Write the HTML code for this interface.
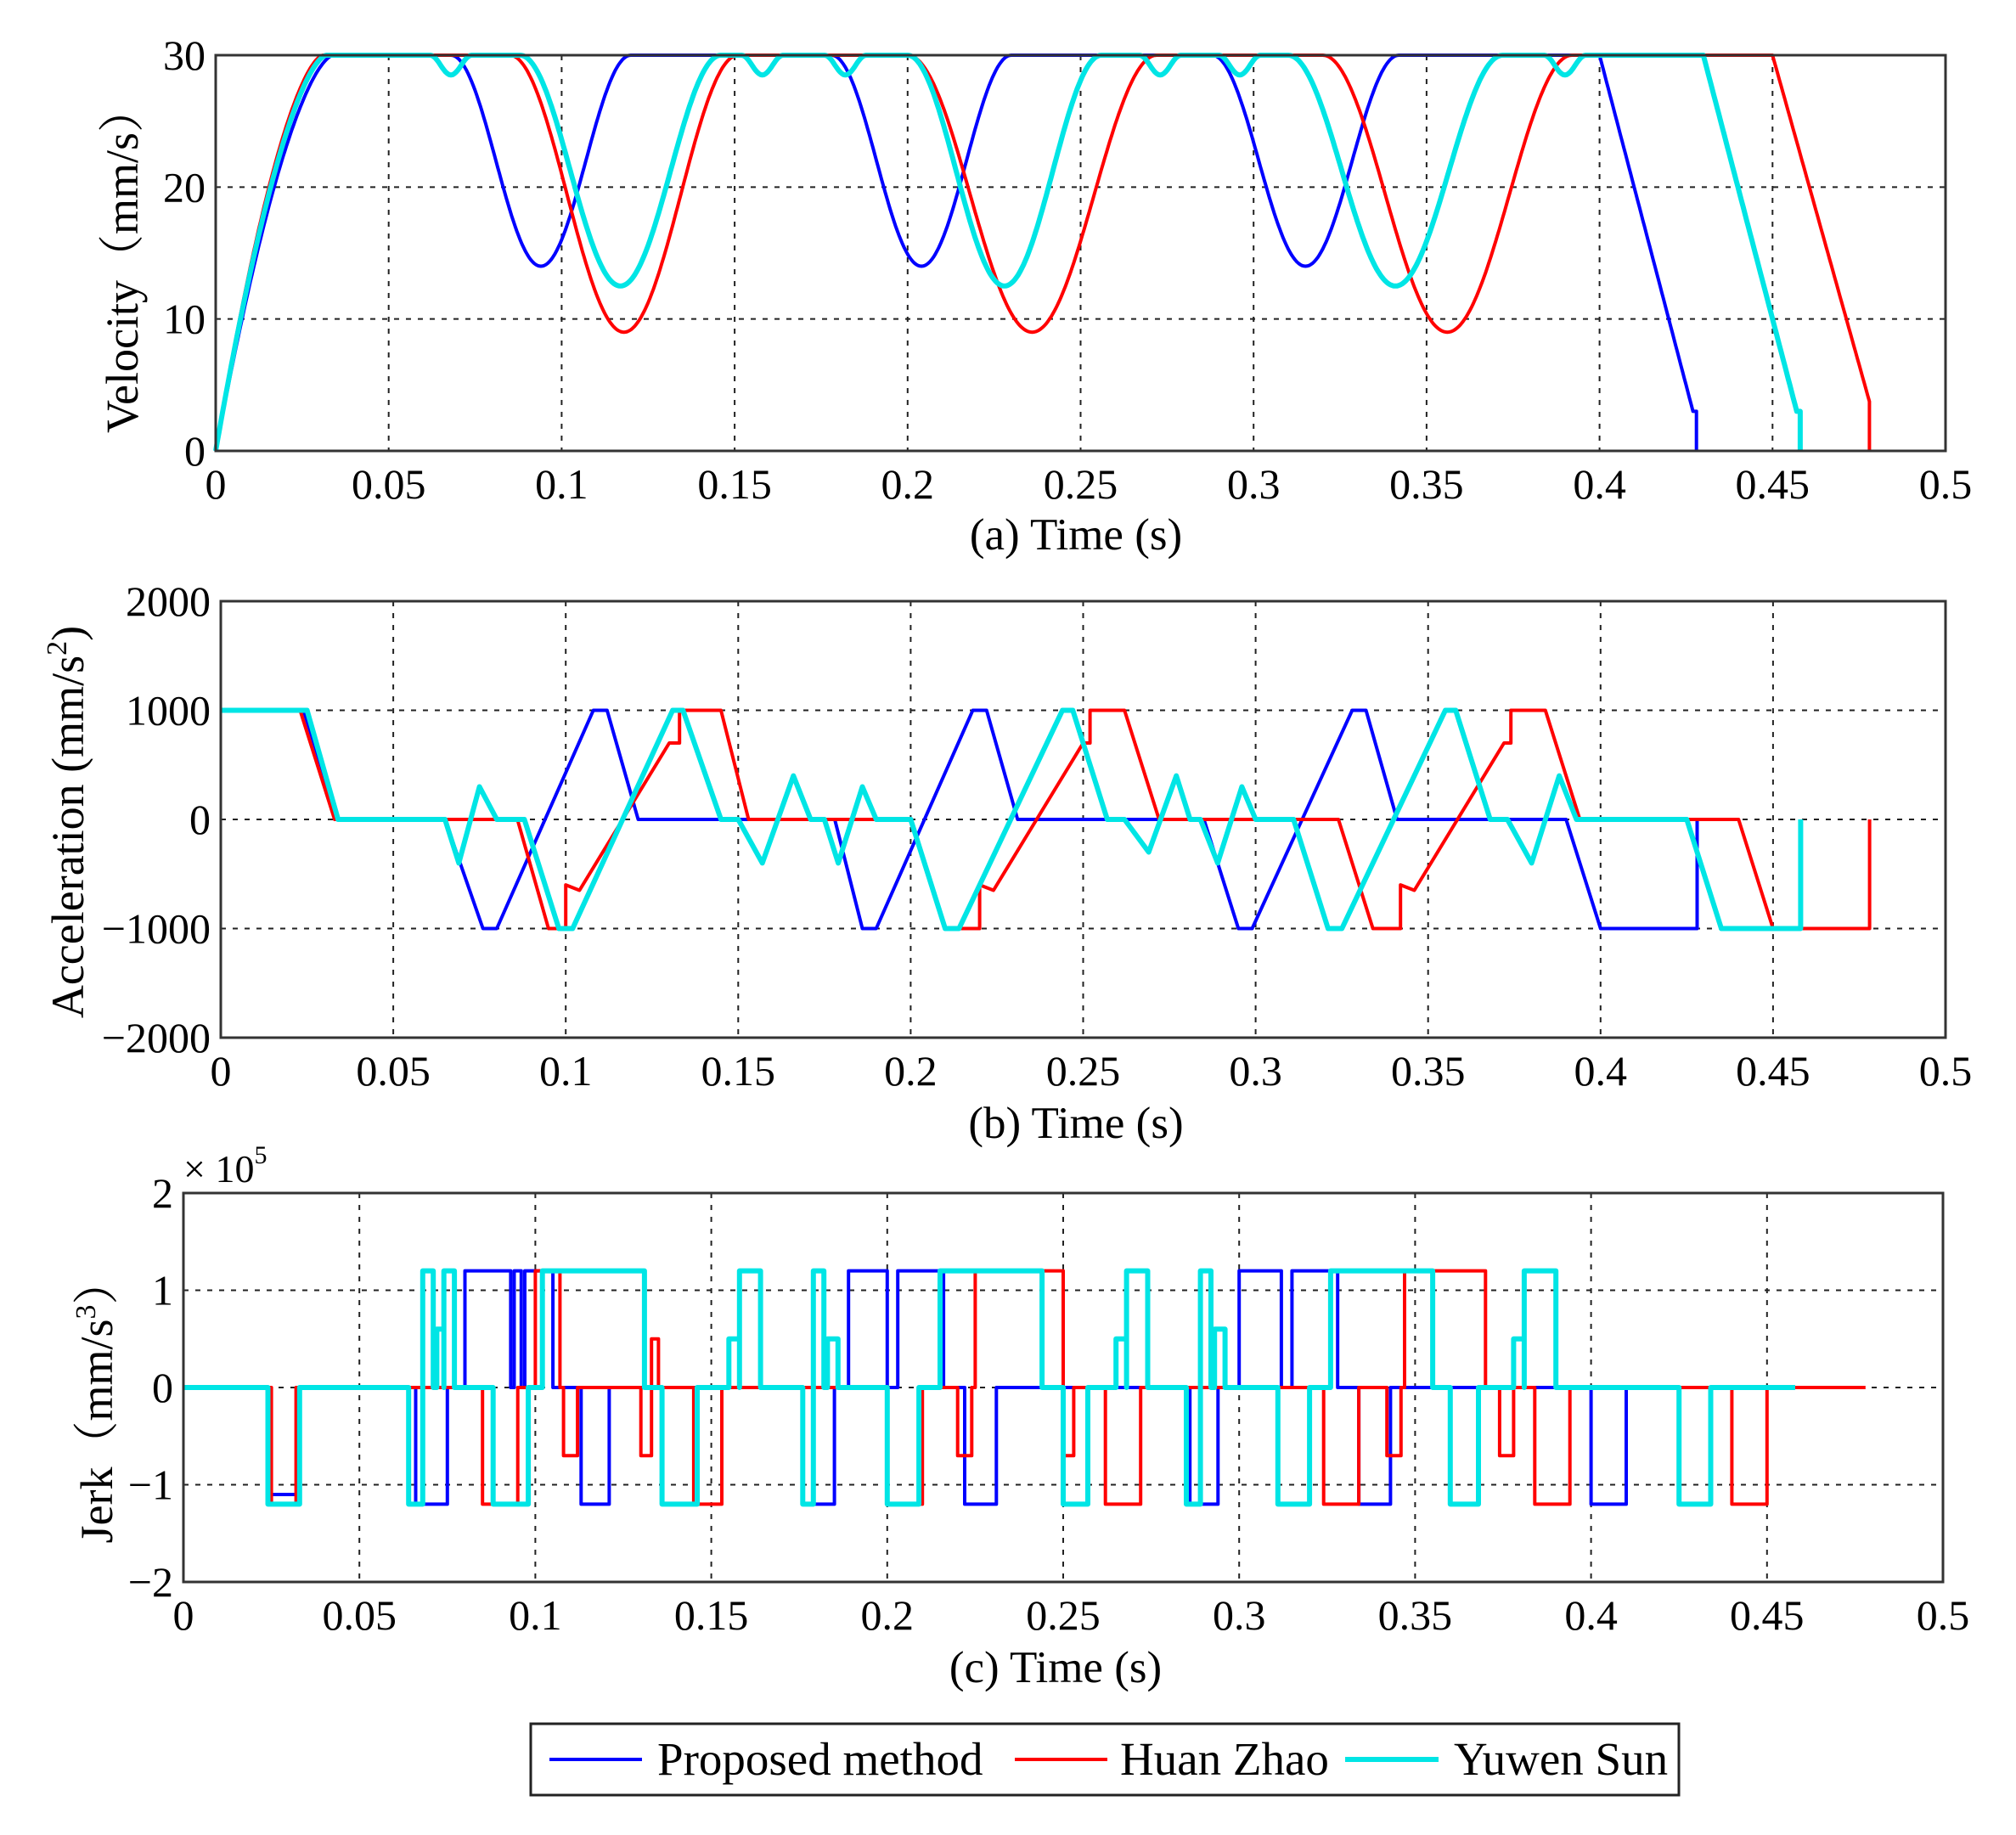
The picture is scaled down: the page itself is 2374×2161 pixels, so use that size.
<!DOCTYPE html>
<html><head><meta charset="utf-8"><style>
html,body{margin:0;padding:0;background:#fff}
svg{display:block}
text{font-family:"Liberation Serif",serif;fill:#000}
</style></head><body>
<svg id="s" width="2374" height="2161" viewBox="0 0 2374 2161" xmlns="http://www.w3.org/2000/svg"></svg>
<script>
const S=document.getElementById('s');let out='';
const P={
a:{x0:254,x1:2291,y0:65,y1:531,ymin:0,ymax:30,ticks:[0,10,20,30],lab:v=>v},
b:{x0:260,x1:2291,y0:708,y1:1222,ymin:-2000,ymax:2000,ticks:[-2000,-1000,0,1000,2000],lab:v=>v<0?'\u2212'+(-v):v},
c:{x0:216,x1:2288,y0:1405,y1:1863,ymin:-2,ymax:2,ticks:[-2,-1,0,1,2],lab:v=>v<0?'\u2212'+(-v):v}
};
function X(p,t){return p.x0+t/0.5*(p.x1-p.x0)}
function Y(p,v){return p.y1-(v-p.ymin)/(p.ymax-p.ymin)*(p.y1-p.y0)}
function axes(p){
 for(let i=1;i<10;i++){const x=X(p,i*0.05);out+=`<line x1="${x}" y1="${p.y0}" x2="${x}" y2="${p.y1}" stroke="#222" stroke-width="2" stroke-dasharray="6,8"/>`;}
 p.ticks.forEach(v=>{const y=Y(p,v);if(v!=p.ymin&&v!=p.ymax)out+=`<line x1="${p.x0}" y1="${y}" x2="${p.x1}" y2="${y}" stroke="#222" stroke-width="2" stroke-dasharray="6,8"/>`;
 out+=`<text x="${p.x0-12}" y="${y+17}" font-size="50" text-anchor="end">${p.lab(v)}</text>`;});
 for(let i=0;i<=10;i++){const t=i*0.05;out+=`<text x="${X(p,t)}" y="${p.y1+56}" font-size="50" text-anchor="middle">${i==0?'0':(+t.toFixed(2)).toString()}</text>`;}
}
function close(p){out+=`<rect x="${p.x0}" y="${p.y0}" width="${p.x1-p.x0}" height="${p.y1-p.y0}" fill="none" stroke="#333" stroke-width="3"/>`;}
function path(p,pts,col,w){out+=`<polyline fill="none" stroke="${col}" stroke-width="${w}" stroke-linejoin="round" points="${pts.map(q=>X(p,q[0]).toFixed(1)+','+Y(p,q[1]).toFixed(1)).join(' ')}"/>`;}
function vel(dips,small,end0,end1,tend,ramp){
 const pts=[];
 for(let t=0;t<=tend+1e-9;t+=0.0005){
  let v;
  if(t<ramp){const u=t/ramp;v=Math.min(30,30*(1-Math.pow(1-u,1.6)));}
  else v=30;
  dips.forEach(d=>{if(t>d[0]&&t<d[2]){const u=(t-d[0])/(d[2]-d[0]);v=30-(30-d[1])*(1-Math.cos(2*Math.PI*u))/2;}});
  small.forEach(d=>{if(Math.abs(t-d)<0.006){v=Math.min(v,30-1.5*(1+Math.cos(Math.PI*(t-d)/0.006))/2);}});
  if(t>end0){v=30*(1-(t-end0)/(end1-end0));v=Math.max(v,3);}
  pts.push([t,v]);
 }
 pts.push([tend,0]);return pts;
}
axes(P.a);
const vb=vel([[0.068,14,0.12],[0.178,14,0.23],[0.288,14,0.342]],[],0.4,0.43,0.428,0.034);
const vr=vel([[0.085,9,0.151],[0.2,9,0.272],[0.32,9,0.392]],[],0.45,0.482,0.478,0.031);
const vc=vel([[0.088,12.5,0.146],[0.2,12.5,0.256],[0.31,12.5,0.372]],[0.068,0.158,0.182,0.273,0.296,0.39],0.43,0.46,0.458,0.032);
path(P.a,vb,'#0000ff',4);path(P.a,vr,'#ff0000',4);path(P.a,vc,'#00e5e5',6);
close(P.a);
axes(P.b);
const ab=[[0,1000],[0.024,1000],[0.034,0],[0.065,0],[0.076,-1000],[0.08,-1000],[0.108,1000],[0.112,1000],[0.121,0],[0.178,0],[0.186,-1000],[0.19,-1000],[0.218,1000],[0.222,1000],[0.231,0],[0.285,0],[0.295,-1000],[0.299,-1000],[0.328,1000],[0.332,1000],[0.341,0],[0.39,0],[0.4,-1000],[0.428,-1000],[0.428,0]];
const ar=[[0,1000],[0.023,1000],[0.033,0],[0.086,0],[0.095,-1000],[0.1,-1000],[0.1,-600],[0.104,-650],[0.13,700],[0.133,700],[0.133,1000],[0.145,1000],[0.153,0],[0.2,0],[0.21,-1000],[0.22,-1000],[0.22,-600],[0.224,-650],[0.25,700],[0.252,700],[0.252,1000],[0.262,1000],[0.272,0],[0.324,0],[0.334,-1000],[0.342,-1000],[0.342,-600],[0.346,-650],[0.372,700],[0.374,700],[0.374,1000],[0.384,1000],[0.394,0],[0.44,0],[0.45,-1000],[0.478,-1000],[0.478,0]];
const ac=[[0,1000],[0.025,1000],[0.034,0],[0.065,0],[0.069,-400],[0.075,300],[0.08,0],[0.088,0],[0.098,-1000],[0.102,-1000],[0.131,1000],[0.134,1000],[0.145,0],[0.15,0],[0.157,-400],[0.166,400],[0.171,0],[0.175,0],[0.179,-400],[0.186,300],[0.19,0],[0.2,0],[0.21,-1000],[0.214,-1000],[0.244,1000],[0.247,1000],[0.257,0],[0.262,0],[0.269,-300],[0.277,400],[0.281,0],[0.284,0],[0.289,-400],[0.296,300],[0.3,0],[0.311,0],[0.321,-1000],[0.325,-1000],[0.355,1000],[0.358,1000],[0.368,0],[0.373,0],[0.38,-400],[0.388,400],[0.393,0],[0.425,0],[0.435,-1000],[0.458,-1000],[0.458,0]];
path(P.b,ab,'#0000ff',4);path(P.b,ar,'#ff0000',4);path(P.b,ac,'#00e5e5',6);
close(P.b);
axes(P.c);
function steps(blocks,tend){const pts=[[0,0]];blocks.forEach(b=>{pts.push([b[0],0],[b[0],b[2]],[b[1],b[2]],[b[1],0]);});pts.push([tend,0]);return pts;}
const H=1.2,L=-1.2;
const jb=steps([[0.024,0.033,-1.1],[0.066,0.075,L],[0.08,0.093,H],[0.094,0.096,H],[0.097,0.105,H],[0.113,0.121,L],[0.176,0.185,L],[0.189,0.2,H],[0.203,0.216,H],[0.222,0.231,L],[0.286,0.294,L],[0.3,0.312,H],[0.315,0.328,H],[0.334,0.343,L],[0.4,0.41,L]],0.43);
const jr=steps([[0.025,0.032,L],[0.085,0.095,L],[0.1,0.107,H],[0.108,0.112,-0.7],[0.13,0.133,-0.7],[0.133,0.135,0.5],[0.145,0.153,L],[0.2,0.21,L],[0.22,0.224,-0.7],[0.225,0.25,H],[0.25,0.253,-0.7],[0.262,0.272,L],[0.324,0.334,L],[0.342,0.346,-0.7],[0.347,0.37,H],[0.374,0.378,-0.7],[0.384,0.394,L],[0.44,0.45,L]],0.478);
const jc=steps([[0.024,0.033,L],[0.064,0.068,L],[0.068,0.071,H],[0.072,0.074,0.6],[0.074,0.077,H],[0.088,0.098,L],[0.102,0.131,H],[0.136,0.146,L],[0.155,0.158,0.5],[0.158,0.164,H],[0.176,0.179,L],[0.179,0.182,H],[0.183,0.186,0.5],[0.2,0.209,L],[0.215,0.244,H],[0.25,0.257,L],[0.265,0.268,0.5],[0.268,0.274,H],[0.285,0.289,L],[0.289,0.292,H],[0.293,0.296,0.6],[0.311,0.32,L],[0.326,0.355,H],[0.36,0.368,L],[0.378,0.381,0.5],[0.381,0.39,H],[0.425,0.434,L]],0.458);
path(P.c,jb,'#0000ff',4);path(P.c,jr,'#ff0000',4);path(P.c,jc,'#00e5e5',6);
close(P.c);
out+=`<text x="1267" y="647" font-size="53" text-anchor="middle">(a) Time (s)</text>`;
out+=`<text x="1267" y="1340" font-size="53" text-anchor="middle">(b)  Time (s)</text>`;
out+=`<text x="1243" y="1981" font-size="53" text-anchor="middle">(c) Time (s)</text>`;
out+=`<text transform="translate(162,306) rotate(-90)" font-size="54" text-anchor="middle" style="font-family:'Liberation Serif','Noto Serif CJK SC',serif">Velocity（mm/s）</text>`;
out+=`<text transform="translate(98,968) rotate(-90)" font-size="54" text-anchor="middle">Acceleration (mm/s<tspan dy="-20" font-size="34">2</tspan><tspan dy="20">)</tspan></text>`;
out+=`<text transform="translate(132,1650) rotate(-90)" font-size="54" text-anchor="middle" style="font-family:'Liberation Serif','Noto Serif CJK SC',serif">Jerk（mm/s<tspan dy="-20" font-size="34">3</tspan><tspan dy="20">）</tspan></text>`;
out+=`<text x="216" y="1392" font-size="46">× 10<tspan dy="-22" font-size="30">5</tspan></text>`;
out+=`<rect x="625" y="2030" width="1352" height="84" fill="#fff" stroke="#222" stroke-width="3"/>`;
out+=`<line x1="647" y1="2072" x2="756" y2="2072" stroke="#0000ff" stroke-width="4"/><text x="774" y="2090" font-size="55">Proposed method</text>`;
out+=`<line x1="1195" y1="2072" x2="1304" y2="2072" stroke="#ff0000" stroke-width="4"/><text x="1319" y="2090" font-size="55">Huan Zhao</text>`;
out+=`<line x1="1584" y1="2072" x2="1694" y2="2072" stroke="#00e5e5" stroke-width="6"/><text x="1712" y="2090" font-size="55">Yuwen Sun</text>`;
S.innerHTML=out;
</script>
</body></html>
